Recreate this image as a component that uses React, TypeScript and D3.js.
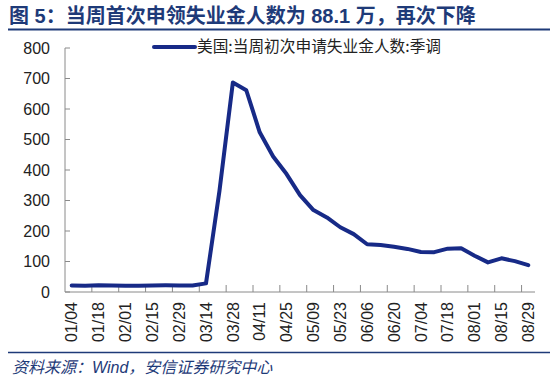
import React, { useRef, useEffect } from 'react';
import * as d3 from 'd3';

// weekly dates (2020), label every other week
const dates = [
  '01/04', '01/11', '01/18', '01/25', '02/01', '02/08', '02/15', '02/22', '02/29',
  '03/07', '03/14', '03/21', '03/28', '04/04', '04/11', '04/18', '04/25', '05/02',
  '05/09', '05/16', '05/23', '05/30', '06/06', '06/13', '06/20', '06/27', '07/04',
  '07/11', '07/18', '07/25', '08/01', '08/08', '08/15', '08/22', '08/29',
];

// 美国:当周初次申请失业金人数:季调 (万人)
const claims = [
  21.6, 20.7, 22.3, 21.6, 20.3, 20.5, 21.5, 21.9, 21.7,
  21.1, 28.2, 330.7, 686.7, 661.5, 523.7, 444.2, 386.7, 317.6,
  268.7, 244.6, 212.3, 189.7, 156.6, 154.0, 148.2, 141.3, 131.0,
  130.7, 142.2, 143.5, 119.1, 97.1, 110.4, 101.1, 88.1,
];

const yTicks = [0, 100, 200, 300, 400, 500, 600, 700, 800];

const TITLE = '图 5：当周首次申领失业金人数为 88.1 万，再次下降';
const LEGEND = '美国:当周初次申请失业金人数:季调';
const SOURCE = '资料来源：Wind，安信证券研究中心';

const NAVY = '#1e3a78';
const LINE = '#172a87';
const AXIS = '#8a8a8a';
const FONT = '"Liberation Sans", Arial, "Noto Sans CJK SC", sans-serif';

const W = 550;
const H = 387;

const Chart: React.FC = () => {
  const svgRef = useRef<SVGSVGElement>(null);

  useEffect(() => {
    if (!svgRef.current) return;
    const svg = d3.select(svgRef.current);
    svg.selectAll('*').remove();

    const left = 65, right = 535, top = 48, bottom = 292;

    const x = d3.scaleBand<string>().domain(dates).range([left, right]).padding(0);
    const y = d3.scaleLinear().domain([0, 800]).range([bottom, top]);
    const cx = (d: string) => (x(d) ?? 0) + x.bandwidth() / 2;

    svg.append('rect').attr('width', W).attr('height', H).attr('fill', '#ffffff');

    // title
    svg.append('text')
      .attr('x', 9).attr('y', 23)
      .attr('font-family', FONT)
      .attr('font-size', 20).attr('font-weight', 'bold')
      .attr('fill', NAVY)
      .text(TITLE);
    svg.append('line')
      .attr('x1', 8).attr('x2', W).attr('y1', 29.5).attr('y2', 29.5)
      .attr('stroke', NAVY).attr('stroke-width', 2);

    // y axis
    const g = svg.append('g');
    g.append('line')
      .attr('x1', left).attr('x2', left).attr('y1', top).attr('y2', bottom)
      .attr('stroke', AXIS).attr('stroke-width', 1);
    g.selectAll('.yt').data(yTicks).enter().append('line')
      .attr('x1', left).attr('x2', left + 5)
      .attr('y1', d => y(d)).attr('y2', d => y(d))
      .attr('stroke', AXIS);
    g.selectAll('.yl').data(yTicks).enter().append('text')
      .attr('x', 50).attr('y', d => y(d))
      .attr('dy', '0.36em')
      .attr('text-anchor', 'end')
      .attr('font-family', FONT).attr('font-size', 16)
      .attr('fill', '#222')
      .text(d => d);

    // x axis
    g.append('line')
      .attr('x1', left).attr('x2', right).attr('y1', bottom).attr('y2', bottom)
      .attr('stroke', AXIS).attr('stroke-width', 1);
    const tickIdx = dates.map((_, i) => i).filter(i => i % 2 === 0 && i > 0);
    g.selectAll('.xt').data(tickIdx).enter().append('line')
      .attr('x1', i => x(dates[i]) ?? 0).attr('x2', i => x(dates[i]) ?? 0)
      .attr('y1', bottom).attr('y2', bottom - 7)
      .attr('stroke', AXIS);
    const labelled = dates.filter((_, i) => i % 2 === 0);
    g.selectAll('.xl').data(labelled).enter().append('text')
      .attr('transform', d => `translate(${cx(d)},${302}) rotate(-90)`)
      .attr('dy', '0.36em')
      .attr('text-anchor', 'end')
      .attr('font-family', FONT).attr('font-size', 16)
      .attr('fill', '#222')
      .text(d => d);

    // series
    const line = d3.line<number>()
      .x((_, i) => cx(dates[i]))
      .y(d => y(d));
    svg.append('path')
      .datum(claims)
      .attr('fill', 'none')
      .attr('stroke', LINE)
      .attr('stroke-width', 4)
      .attr('stroke-linejoin', 'round')
      .attr('stroke-linecap', 'round')
      .attr('d', line);

    // legend
    svg.append('line')
      .attr('x1', 154).attr('x2', 195).attr('y1', 47).attr('y2', 47)
      .attr('stroke', LINE).attr('stroke-width', 4).attr('stroke-linecap', 'round');
    svg.append('text')
      .attr('x', 197).attr('y', 47).attr('dy', '0.35em')
      .attr('font-family', '"Noto Sans CJK SC", sans-serif')
      .attr('font-size', 15.7)
      .attr('fill', '#222')
      .text(LEGEND);

    // source
    svg.append('line')
      .attr('x1', 8).attr('x2', W).attr('y1', 352.5).attr('y2', 352.5)
      .attr('stroke', NAVY).attr('stroke-width', 1.5);
    svg.append('text')
      .attr('x', 12).attr('y', 373)
      .attr('font-family', FONT)
      .attr('font-size', 16).attr('font-style', 'italic')
      .attr('fill', NAVY)
      .text(SOURCE);
  }, []);

  return <svg ref={svgRef} width={W} height={H} style={{ display: 'block' }} />;
};

export default function App() {
  return (
    <div style={{ position: 'absolute', left: 0, top: 0 }}>
      <Chart />
    </div>
  );
}
